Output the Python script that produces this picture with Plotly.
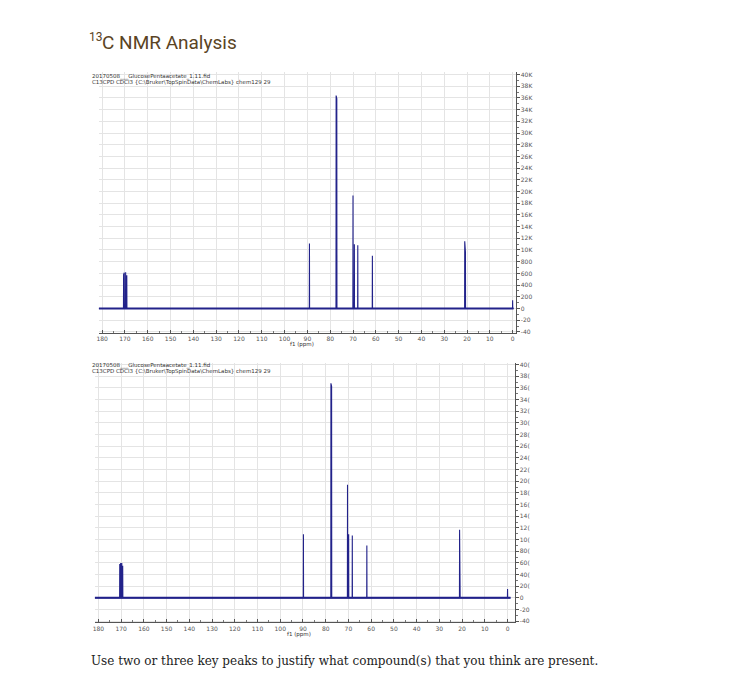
import plotly.graph_objects as go

W, H = 732, 684

# ---------------- data ----------------
# top spectrum peaks (ppm, intensity)
top_ppm = [170.6, 170.3, 169.7, 169.2, 89.1, 77.4, 77.1, 70.0, 69.4, 67.9, 61.5, 21.0, 20.7, 0.0]
top_int = [5800, 6100, 6200, 5700, 11100, 36400, 35900, 19300, 11000, 10800, 9000, 11500, 9700, 1400]
top_span = [181.5, -0.4]

# bottom spectrum peaks (ppm, intensity)
bot_ppm = [170.6, 170.2, 169.7, 169.3, 89.8, 77.7, 77.4, 70.4, 69.9, 68.3, 61.9, 21.1, 20.9, 0.0]
bot_int = [5800, 6000, 6000, 5500, 10900, 36800, 36300, 19400, 10900, 10700, 9000, 11700, 10500, 1500]
bot_span = [181.6, -1.3]

x_ticks = list(range(0, 190, 10))
y_ticks = list(range(-4000, 42000, 2000))
y_labels_top = ["-40", "-20", "0", "200", "400", "600", "800", "10K", "12K", "14K", "16K", "18K",
                "20K", "22K", "24K", "26K", "28K", "30K", "32K", "34K", "36K", "38K", "40K"]
y_labels_bot = ["-40", "-20", "0", "20(", "40(", "60(", "80(", "10(", "12(", "14(", "16(", "18(",
                "20(", "22(", "24(", "26(", "28(", "30(", "32(", "34(", "36(", "38(", "40("]

header1 = "20170508___GlucosePentaacetate_1.11.fid"
header2 = "C13CPD CDCl3 {C:\\Bruker\\TopSpinData\\ChemLabs} chem129 29"
title_sup = "13"
title_txt = "C NMR Analysis"
question = "Use two or three key peaks to justify what compound(s) that you think are present."

SPEC_COLOR = "#22228a"


def spectrum(ppm, inten, span, w=0.06):
    pts = sorted(zip(ppm, inten), reverse=True)
    xs, ys = [span[0]], [0]
    for p, h in pts:
        xs += [p + w, p, p - w]
        ys += [0, h, 0]
    xs.append(span[1])
    ys.append(0)
    return xs, ys


def dom_x(l, r):
    return [l / W, r / W]


def dom_y(t, b):
    return [1 - b / H, 1 - t / H]


fig = go.Figure()

for idx, (pp, ii, sp) in enumerate([(top_ppm, top_int, top_span), (bot_ppm, bot_int, bot_span)]):
    xa = "x" if idx == 0 else "x2"
    ya = "y" if idx == 0 else "y2"
    fig.add_trace(go.Scatter(x=sp, y=[0, 0], mode="lines", xaxis=xa, yaxis=ya,
                             line=dict(color=SPEC_COLOR, width=2), hoverinfo="skip", showlegend=False))
    xs, ys = spectrum(pp, ii, sp)
    fig.add_trace(go.Scatter(x=xs, y=ys, mode="lines", xaxis=xa, yaxis=ya,
                             line=dict(color=SPEC_COLOR, width=1.1), showlegend=False))

axis_font = dict(family="DejaVu Sans", size=6, color="#555")

def xaxis_cfg(dom, rng, anchor):
    return dict(domain=dom, range=rng, anchor=anchor, tickvals=x_ticks, ticktext=[str(v) for v in x_ticks],
                ticks="inside", ticklen=3, tickcolor="#555", showline=True, linecolor="#555", linewidth=1,
                showgrid=True, gridcolor="#e4e4e4", gridwidth=1, zeroline=False, tickfont=axis_font,
                minor=dict(dtick=5, ticks="inside", ticklen=2, tickcolor="#777", showgrid=False),
                fixedrange=True)


def yaxis_cfg(dom, rng, anchor, labels):
    return dict(domain=dom, range=rng, anchor=anchor, side="right", tickvals=y_ticks, ticktext=labels,
                ticks="outside", ticklen=3, tickcolor="#555", showline=True, linecolor="#555", linewidth=1,
                showgrid=True, gridcolor="#e4e4e4", gridwidth=1, zeroline=False, tickfont=axis_font,
                minor=dict(dtick=1000, ticks="outside", ticklen=2, tickcolor="#777", showgrid=False),
                fixedrange=True)


fig.update_layout(
    width=W, height=H, margin=dict(l=0, r=0, t=0, b=0),
    paper_bgcolor="white", plot_bgcolor="white", showlegend=False,
    xaxis=xaxis_cfg(dom_x(97, 515), [181.5, -1.3], "y"),
    yaxis=yaxis_cfg(dom_y(70, 333), [-4200, 40500], "x", y_labels_top),
    xaxis2=xaxis_cfg(dom_x(93, 514), [181.6, -3.1], "y2"),
    yaxis2=yaxis_cfg(dom_y(363, 624), [-4200, 40300], "x2", y_labels_bot),
)

small = dict(family="DejaVu Sans", size=5.5, color="#333")
title_color = "#5a4424"
ann = [
    dict(text=title_sup, x=85 / W, y=1 - 35 / H, xanchor="left", yanchor="middle",
         font=dict(family="Roboto", size=12, color=title_color)),
    dict(text=title_txt, x=98 / W, y=1 - 41 / H, xanchor="left", yanchor="middle",
         font=dict(family="Roboto", size=19, color=title_color)),
    dict(text=header1, x=88 / W, y=1 - 75 / H, xanchor="left", yanchor="middle", font=small),
    dict(text=header2, x=88 / W, y=1 - 81 / H, xanchor="left", yanchor="middle", font=small),
    dict(text=header1, x=88 / W, y=1 - 366 / H, xanchor="left", yanchor="middle", font=small),
    dict(text=header2, x=88 / W, y=1 - 372 / H, xanchor="left", yanchor="middle", font=small),
    dict(text="f1 (ppm)", x=301 / W, y=1 - 345 / H, xanchor="center", yanchor="middle", font=small),
    dict(text="f1 (ppm)", x=298 / W, y=1 - 636 / H, xanchor="center", yanchor="middle", font=small),
    dict(text=question, x=87 / W, y=1 - 663 / H, xanchor="left", yanchor="middle",
         font=dict(family="DejaVu Serif", size=12, color="#222")),
]
for a in ann:
    a.update(xref="paper", yref="paper", showarrow=False)
fig.update_layout(annotations=ann)

fig.write_html("out.html")
